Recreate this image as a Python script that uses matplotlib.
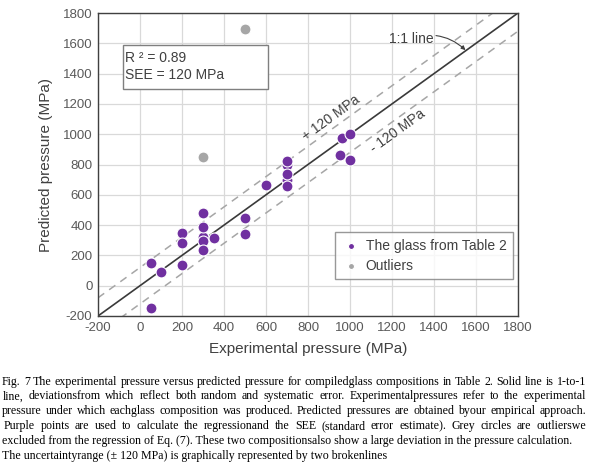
import matplotlib
matplotlib.use("Agg")
import matplotlib.pyplot as plt
from matplotlib.font_manager import FontProperties

plt.rcParams["axes.unicode_minus"] = False

# ---- data ----
glass_exp = [50, 50, 100, 200, 200, 200, 300, 300, 300, 300, 300, 350, 500, 500, 600,
             700, 700, 700, 700, 700, 950, 960, 1000, 1000]
glass_pred = [150, -150, 90, 350, 280, 135, 323, 478, 385, 295, 234, 315, 450, 340, 665,
              795, 695, 820, 735, 655, 860, 975, 1000, 830]
outlier_exp = [500, 300]
outlier_pred = [1695, 847]
uncertainty = 120
axis_min, axis_max = -200, 1800
ticks = list(range(-200, 1801, 200))

caption_lines = [
    "Fig. 7 The experimental pressure versus predicted pressure for compiledglass compositions in Table 2. Solid line is 1-to-1",
    "line, deviationsfrom which reflect both random and systematic error. Experimentalpressures refer to the experimental",
    "pressure under which eachglass composition was produced. Predicted pressures are obtained byour empirical approach.",
    "Purple points are used to calculate the regressionand the SEE (standard error estimate). Grey circles are outlierswe",
    "excluded from the regression of Eq. (7). These two compositionsalso show a large deviation in the pressure calculation.",
    "The uncertaintyrange (\u00b1 120 MPa) is graphically represented by two brokenlines",
]
justified = [True, True, True, True, False, False]

W, H = 592, 466
fig = plt.figure(figsize=(W / 100, H / 100), dpi=100)
ax = fig.add_axes([98 / W, 1 - 316 / H, 420 / W, 303 / H])

sans = "Liberation Sans"
tick_col = "#595959"

ax.set_xlim(axis_min, axis_max)
ax.set_ylim(axis_min, axis_max)
ax.set_xticks(ticks)
ax.set_yticks(ticks)
ax.grid(True, color="#D9D9D9", lw=0.9)
ax.set_axisbelow(True)
ax.tick_params(length=0, labelsize=9.5, labelcolor=tick_col, pad=4)
for lab in ax.get_xticklabels() + ax.get_yticklabels():
    lab.set_family(sans)
for s in ax.spines.values():
    s.set_color("#404040")
    s.set_linewidth(1.0)

# lines
ax.plot([axis_min, axis_max], [axis_min, axis_max], color="#3a3a3a", lw=1.2, zorder=2)
ax.plot([axis_min, axis_max], [axis_min + uncertainty, axis_max + uncertainty],
        color="#A6A6A6", lw=1.1, ls=(0, (5, 4)), zorder=2)
ax.plot([axis_min, axis_max], [axis_min - uncertainty, axis_max - uncertainty],
        color="#A6A6A6", lw=1.1, ls=(0, (5, 4)), zorder=2)

ax.scatter(glass_exp, glass_pred, s=62, color="#7030A0", edgecolors="white",
           linewidths=0.8, zorder=3, label="The glass from Table 2")
ax.scatter(outlier_exp, outlier_pred, s=62, color="#A6A6A6", edgecolors="white",
           linewidths=0.8, zorder=3, label="Outliers")

ax.set_xlabel("Experimental pressure (MPa)", family=sans, fontsize=11, color="#404040", labelpad=6)
ax.set_ylabel("Predicted pressure (MPa)", family=sans, fontsize=11, color="#404040", labelpad=7)

leg = ax.legend(loc="lower right", bbox_to_anchor=(0.988, 0.122), frameon=True, fancybox=False,
                markerscale=0.55, handletextpad=0.35, borderpad=0.45, labelspacing=0.45,
                prop={"family": sans, "size": 10}, handlelength=1.4, borderaxespad=0)
leg.get_frame().set_edgecolor("#7F7F7F")
leg.get_frame().set_linewidth(1.0)
for t in leg.get_texts():
    t.set_color("#404040")

# stats box
ax.add_patch(plt.Rectangle((-80, 1298), 691, 291, facecolor="white", edgecolor="#7F7F7F",
                           lw=1.0, zorder=4))
ax.text(-70, 1445, "R \u00b2 = 0.89\nSEE = 120 MPa", family=sans, fontsize=10, color="#404040",
        va="center", ha="left", linespacing=1.25, zorder=5)

ang = 35.8
ax.text(910, 1107, "+ 120 MPa", rotation=ang, ha="center", va="center", family=sans,
        fontsize=10, color="#404040", rotation_mode="anchor")
ax.text(1226, 1022, "- 120 MPa", rotation=ang, ha="center", va="center", family=sans,
        fontsize=10, color="#404040", rotation_mode="anchor")
ax.annotate("1:1 line", xy=(1550, 1555), xytext=(1290, 1630), ha="center", va="center",
            family=sans, fontsize=10, color="#404040",
            arrowprops=dict(arrowstyle="-|>", color="#404040", lw=0.8, mutation_scale=6,
                            connectionstyle="arc3,rad=-0.3", shrinkA=0, shrinkB=0))

# caption (justified lines)
fig.canvas.draw()
r = fig.canvas.get_renderer()
serif = FontProperties(family="Liberation Serif", size=8.6)

def wpx(s):
    return r.get_text_width_height_descent(s, serif, ismath=False)[0]

line_y = [381.7, 396.4, 411.2, 426.0, 440.7, 455.6]
line_x0 = [2, 3, 1.5, 4, 2, 2]
x_right = 586
for text, y, x0, just in zip(caption_lines, line_y, line_x0, justified):
    if just:
        words = text.split(" ")
        ws = [wpx(w) for w in words]
        gap = (x_right - x0 - sum(ws)) / (len(words) - 1)
        x = x0
        for w, wl in zip(words, ws):
            fig.text(x / W, 1 - y / H, w, fontproperties=serif, va="center", ha="left")
            x += wl + gap
    else:
        fig.text(x0 / W, 1 - y / H, text, fontproperties=serif, va="center", ha="left")

fig.savefig("out.png", dpi=100)
